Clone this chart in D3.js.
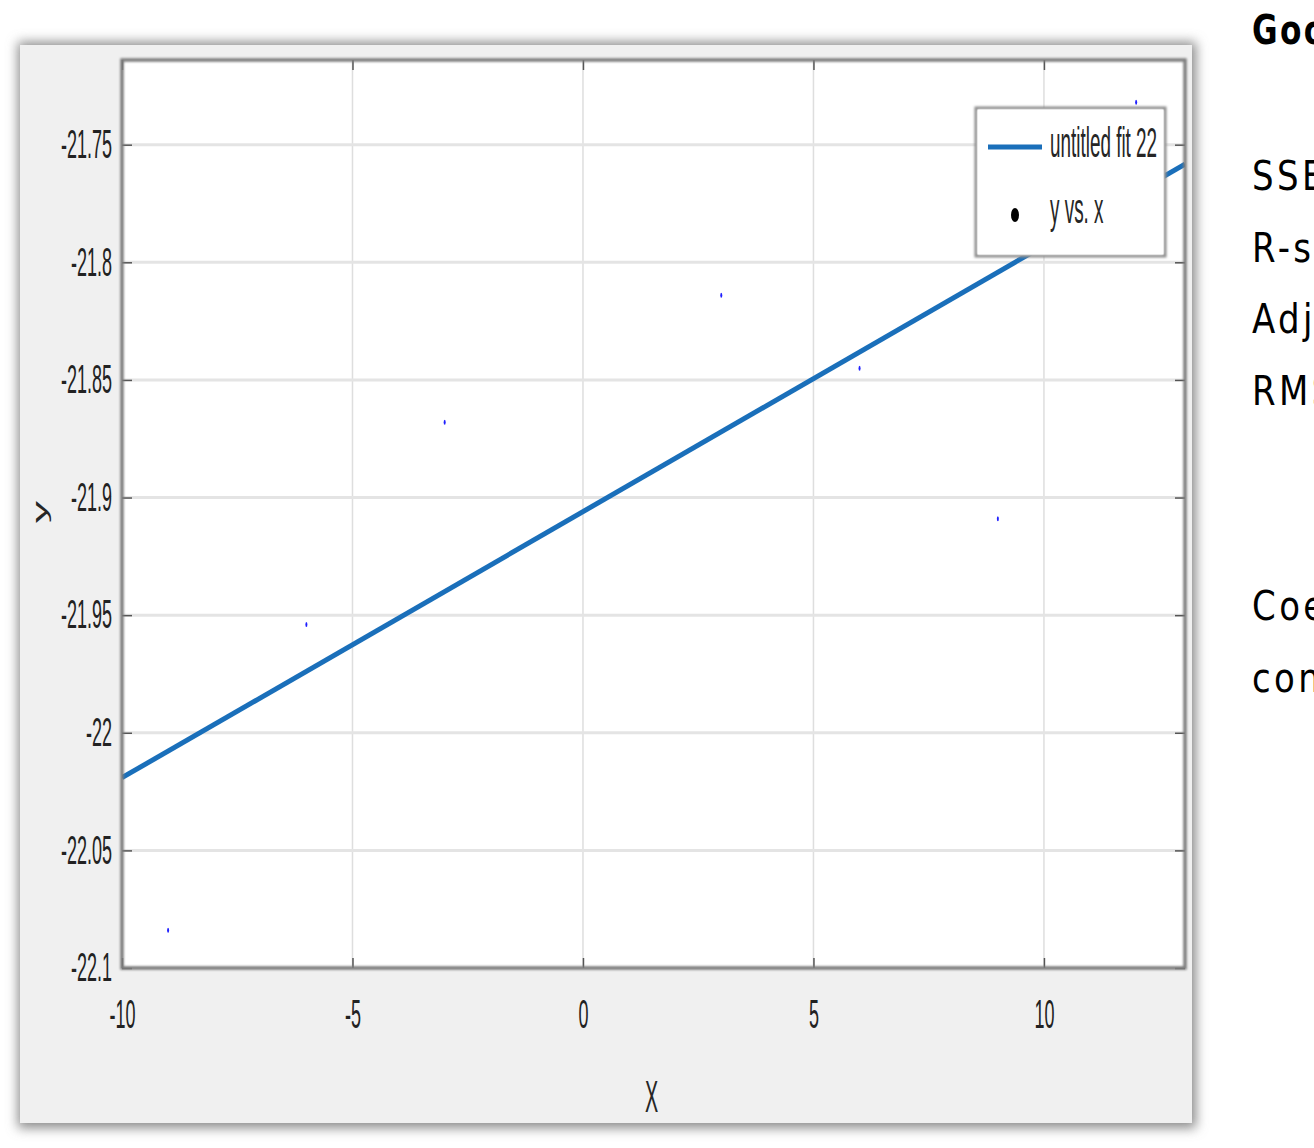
<!DOCTYPE html>
<html>
<head>
<meta charset="utf-8">
<script src="https://cdn.jsdelivr.net/npm/d3@7"></script>
<style>
  body { margin: 0; background: #ffffff; }
  svg { display: block; }
</style>
</head>
<body>
<div class="chart"></div>
<script>
// ---------- data ----------
var xData = [-9, -6, -3, 3, 6, 9, 12];
var yData = [-22.084, -21.954, -21.868, -21.814, -21.845, -21.909, -21.732];

// linear fit  y = p1*x + p2
var fitP1 = 0.01131;
var fitP2 = -21.906;

var xTicks = [-10, -5, 0, 5, 10];
var yTicks = [-22.1, -22.05, -22, -21.95, -21.9, -21.85, -21.8, -21.75];
var xDomain = [-10, 13.06];
var yDomain = [-22.1, -21.714];

var legendLabels = ["untitled fit 22", "y vs. x"];
var resultLines = ["SSE:", "R-square:", "Adjusted R-square:", "RMSE:"];
var coefLines = ["Coefficients (with 95% confidence bounds):", "const"];

// ---------- svg setup ----------
var svgWidth = 1314;
var svgHeight = 1148;

var plot = { left: 122, right: 1185, top: 60, bottom: 968 };
var squeeze = 0.45;   // the screenshot is squashed sideways

var svg = d3.select(".chart")
    .append("svg")
    .attr("width", svgWidth)
    .attr("height", svgHeight);

var defs = svg.append("defs");
defs.append("filter").attr("id", "shadow")
    .attr("x", "-5%").attr("y", "-5%").attr("width", "110%").attr("height", "110%")
    .append("feGaussianBlur").attr("stdDeviation", 6);
defs.append("filter").attr("id", "soft")
    .append("feGaussianBlur").attr("stdDeviation", 0.8);
defs.append("clipPath").attr("id", "plotClip")
    .append("rect")
    .attr("x", plot.left).attr("y", plot.top)
    .attr("width", plot.right - plot.left).attr("height", plot.bottom - plot.top);

// grey figure panel with its shadow
svg.append("rect")
    .attr("x", 18).attr("y", 42).attr("width", 1178).attr("height", 1086)
    .attr("fill", "#8a8a8a")
    .attr("filter", "url(#shadow)");
svg.append("rect")
    .attr("x", 20).attr("y", 45).attr("width", 1172).attr("height", 1078)
    .attr("fill", "#f0f0f0");

// white axes area
svg.append("rect")
    .attr("x", plot.left).attr("y", plot.top)
    .attr("width", plot.right - plot.left).attr("height", plot.bottom - plot.top)
    .attr("fill", "#ffffff");

// ---------- scales ----------
var xScale = d3.scaleLinear().domain(xDomain).range([plot.left, plot.right]);
var yScale = d3.scaleLinear().domain(yDomain).range([plot.bottom, plot.top]);

// grid
var grid = svg.append("g");
grid.selectAll(".vgrid").data(xTicks).enter()
    .append("line")
    .attr("x1", d => xScale(d)).attr("x2", d => xScale(d))
    .attr("y1", plot.top).attr("y2", plot.bottom)
    .attr("stroke", "#dedede").attr("stroke-width", 1.5);
grid.selectAll(".hgrid").data(yTicks).enter()
    .append("line")
    .attr("x1", plot.left).attr("x2", plot.right)
    .attr("y1", d => yScale(d)).attr("y2", d => yScale(d))
    .attr("stroke", "#e4e4e4").attr("stroke-width", 3);

// ---------- fit line and points ----------
var marks = svg.append("g").attr("clip-path", "url(#plotClip)");

var fitLine = d3.line()
    .x(d => xScale(d))
    .y(d => yScale(fitP1 * d + fitP2));

marks.append("path")
    .datum(xDomain)
    .attr("d", fitLine)
    .attr("fill", "none")
    .attr("stroke", "#1a6fba")
    .attr("stroke-width", 5);

marks.selectAll(".pt").data(xData).enter()
    .append("ellipse")
    .attr("cx", d => xScale(d))
    .attr("cy", (d, i) => yScale(yData[i]))
    .attr("rx", 1)
    .attr("ry", 2.5)
    .attr("fill", "#2020ff");

// ---------- axes ----------
var fmt = d => String(+d.toFixed(2));

var leftAxis = d3.axisLeft(yScale).tickValues(yTicks).tickFormat(fmt)
    .tickSize(-10).tickPadding(10 / squeeze);
var rightAxis = d3.axisRight(yScale).tickValues(yTicks).tickFormat("")
    .tickSize(-10);
var bottomAxis = d3.axisBottom(xScale).tickValues(xTicks).tickFormat(fmt)
    .tickSize(-10).tickPadding(32);
var topAxis = d3.axisTop(xScale).tickValues(xTicks).tickFormat("")
    .tickSize(-10);

function styleAxis(g) {
    g.select(".domain").remove();
    g.selectAll(".tick line").attr("stroke", "#555").attr("stroke-width", 1.5);
    g.selectAll("text")
        .attr("fill", "#222")
        .style("font-family", "Liberation Sans, Arial, sans-serif")
        .style("font-size", "40px")
        .attr("transform", `scale(${squeeze},1)`);
}

svg.append("g").attr("transform", `translate(${plot.left},0)`).call(leftAxis).call(styleAxis);
svg.append("g").attr("transform", `translate(${plot.right},0)`).call(rightAxis).call(styleAxis);
svg.append("g").attr("transform", `translate(0,${plot.bottom})`).call(bottomAxis).call(styleAxis);
svg.append("g").attr("transform", `translate(0,${plot.top})`).call(topAxis).call(styleAxis);

// axes box (soft grey like the screenshot)
svg.append("rect")
    .attr("x", plot.left).attr("y", plot.top)
    .attr("width", plot.right - plot.left).attr("height", plot.bottom - plot.top)
    .attr("fill", "none")
    .attr("stroke", "#7d7d7d")
    .attr("stroke-width", 3.5)
    .attr("filter", "url(#soft)");

// axis titles
svg.append("text")
    .attr("transform", `translate(${(plot.left + plot.right) / 2 - 2},1112) scale(${squeeze},1)`)
    .attr("text-anchor", "middle")
    .attr("fill", "#262626")
    .style("font-family", "Liberation Sans, Arial, sans-serif")
    .style("font-size", "44px")
    .text("X");

svg.append("text")
    .attr("transform", `translate(47,${(plot.top + plot.bottom) / 2 - 2}) rotate(-90) scale(1,${squeeze})`)
    .attr("text-anchor", "middle")
    .attr("fill", "#262626")
    .style("font-family", "Liberation Sans, Arial, sans-serif")
    .style("font-size", "44px")
    .text("y");

// ---------- legend ----------
var legend = svg.append("g").attr("transform", "translate(976,108)");
legend.append("rect")
    .attr("width", 189).attr("height", 148)
    .attr("fill", "#ffffff")
    .attr("stroke", "#8c8c8c")
    .attr("stroke-width", 3)
    .attr("filter", "url(#soft)");
legend.append("rect")
    .attr("x", 1.5).attr("y", 1.5).attr("width", 186).attr("height", 145)
    .attr("fill", "#ffffff");
legend.append("line")
    .attr("x1", 12).attr("x2", 66).attr("y1", 39).attr("y2", 39)
    .attr("stroke", "#1a6fba").attr("stroke-width", 5);
legend.append("ellipse")
    .attr("cx", 39).attr("cy", 107).attr("rx", 4).attr("ry", 7)
    .attr("fill", "#000");
legend.selectAll(".ltext").data(legendLabels).enter()
    .append("text")
    .attr("transform", (d, i) => `translate(74,${49 + i * 66}) scale(${squeeze},1)`)
    .attr("fill", "#262626")
    .style("font-family", "Liberation Sans, Arial, sans-serif")
    .style("font-size", "42px")
    .text(d => d);

// ---------- results text on the right (runs off the page, as in the screenshot) ----------
var results = svg.append("g")
    .style("font-family", "DejaVu Sans, sans-serif")
    .style("font-size", "40px")
    .style("letter-spacing", "4px")
    .attr("fill", "#000");

results.append("text")
    .attr("transform", "translate(1252,44) scale(0.78,1)")
    .style("font-weight", "bold")
    .style("letter-spacing", "3px")
    .text("Goodness of fit:");

results.selectAll(".res").data(resultLines).enter()
    .append("text")
    .attr("transform", (d, i) => `translate(1252,${190 + i * 71.7}) scale(0.85,1)`)
    .text(d => d);

results.selectAll(".coef").data(coefLines).enter()
    .append("text")
    .attr("transform", (d, i) => `translate(1252,${620 + i * 71.7}) scale(0.85,1)`)
    .text(d => d);
</script>
</body>
</html>
